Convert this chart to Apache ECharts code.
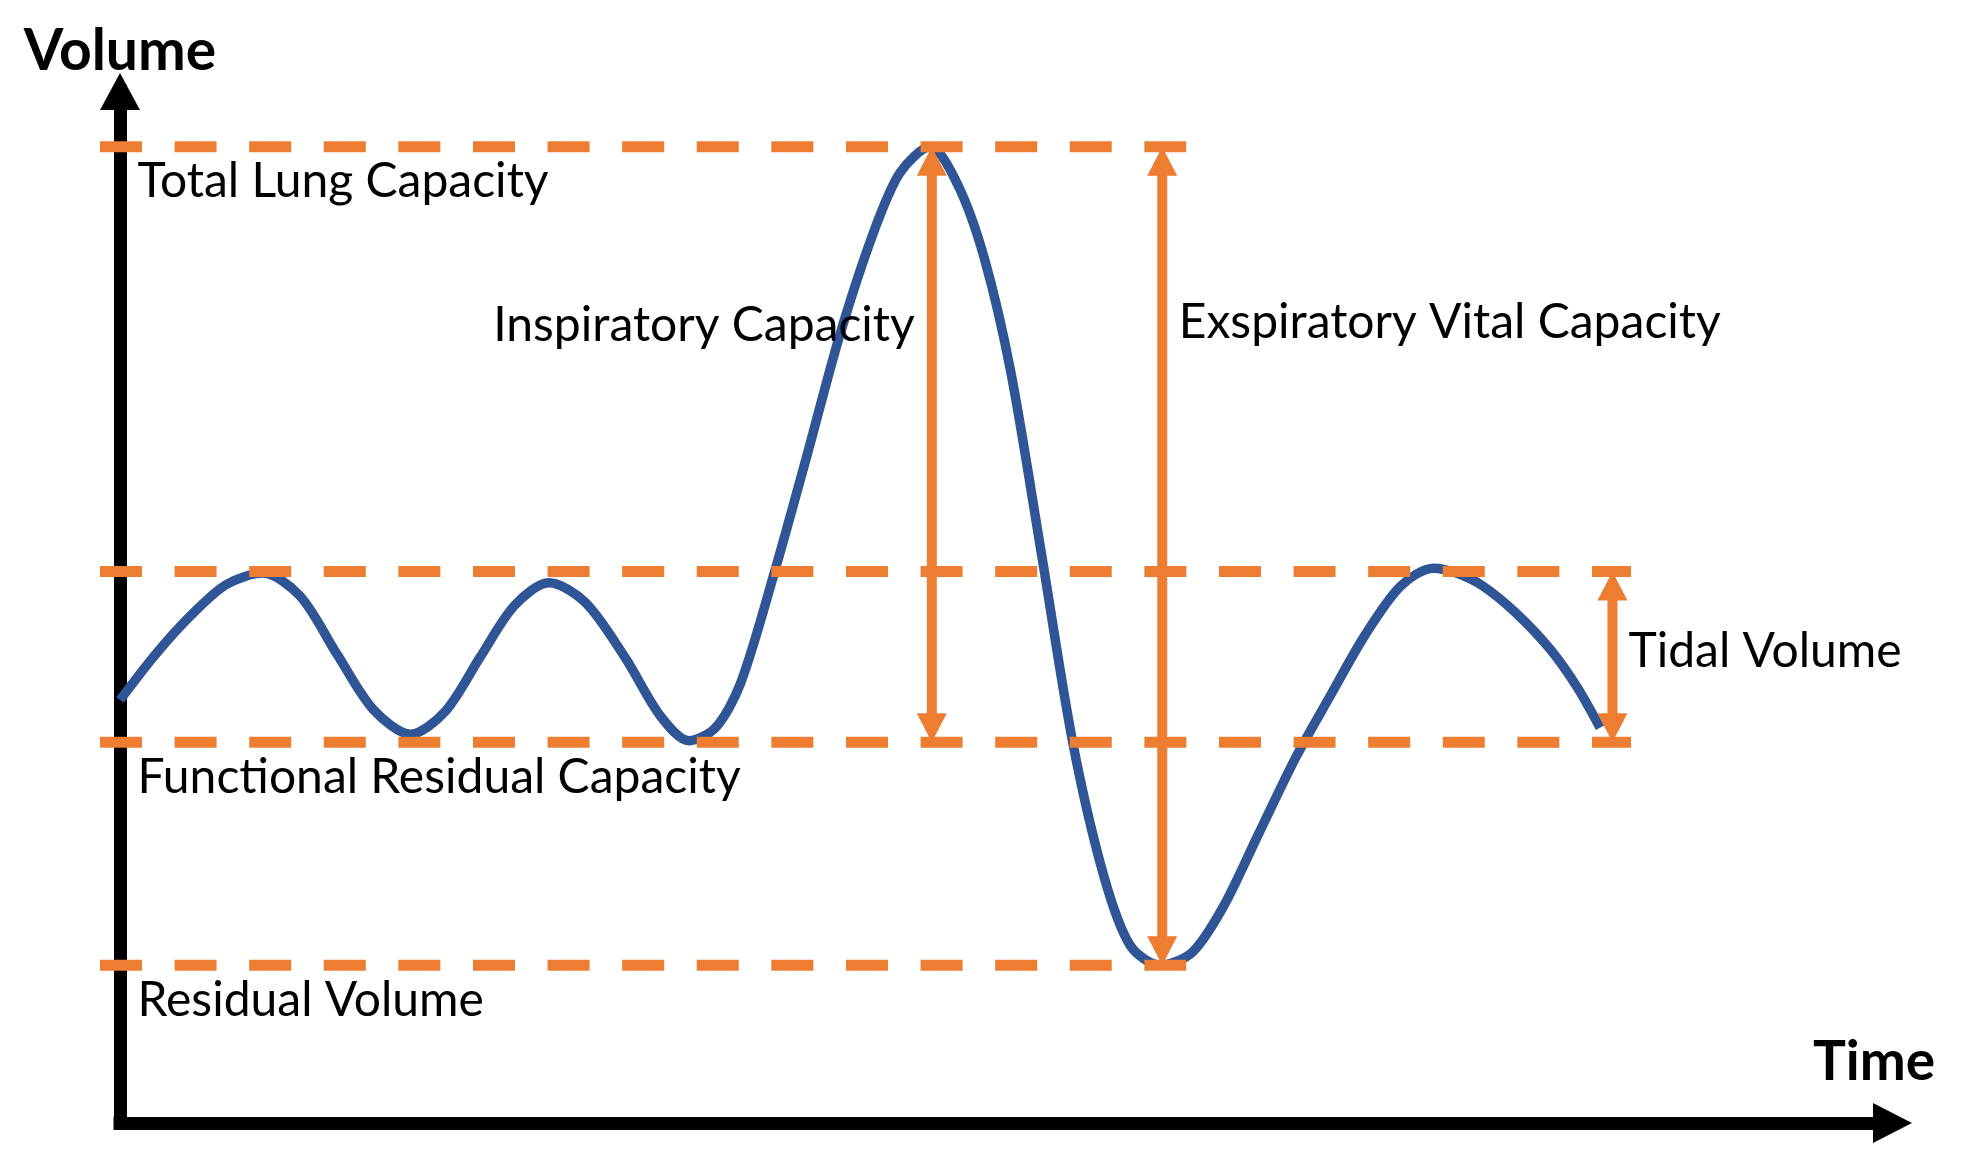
<!DOCTYPE html>
<html><head><meta charset="utf-8">
<script src="https://cdn.jsdelivr.net/npm/echarts@6/dist/echarts.min.js"></script>
<style>html,body{margin:0;padding:0;background:#fff}#c{width:1973px;height:1168px}</style>
</head><body><div id="c"></div>
<script>
// Breathing curve (time in s, volume in L)
const curveTime = [0.00,0.40,0.80,1.20,1.61,2.03,2.45,2.86,3.28,3.67,4.06,4.45,4.84,5.25,5.70,6.10,6.42,6.72,7.00,7.385,7.75,8.12,8.50,8.80,9.14,9.45,9.75,10.05,10.40,10.75,11.10,11.40,11.74,12.10,12.45,12.85,13.27,13.65,14.05,14.45,14.82,15.08,15.38,15.76,16.14,16.44,16.70];
const curveVolume = [2.60,2.88,3.12,3.31,3.38,3.24,2.88,2.54,2.39,2.53,2.86,3.18,3.32,3.20,2.86,2.50,2.35,2.43,2.70,3.386,4.10,4.84,5.47,5.84,6.00,5.77,5.32,4.62,3.49,2.34,1.52,1.09,0.97,1.05,1.33,1.78,2.25,2.62,3.00,3.30,3.41,3.38,3.30,3.13,2.91,2.68,2.43];

// Reference levels (dashed lines)
const levelLabels = ['Total Lung Capacity', '', 'Functional Residual Capacity', 'Residual Volume'];
const levelVolumes = [6.00, 3.39, 2.34, 0.97];
const levelStartTime = -0.226;
const levelEndTimes = [12.03, 17.05, 17.05, 12.03];

// Double-headed arrows
const arrowLabels = ['Inspiratory Capacity', 'Exspiratory Vital Capacity', 'Tidal Volume'];
const arrowTimes = [9.16, 11.76, 16.84];
const arrowFrom = [2.34, 0.97, 2.34];
const arrowTo = [6.00, 6.00, 3.39];

const ORANGE = '#ED7D31', BLUE = '#2F5597';
const FONT = 'Lato';
const LABEL_SIZE = 48;

const chart = echarts.init(document.getElementById('c'), null, {renderer: 'canvas'});

const levelData = levelVolumes.map((v, i) => [levelStartTime, levelEndTimes[i], v]);
const arrowData = arrowTimes.map((t, i) => [t, arrowFrom[i], arrowTo[i]]);

chart.setOption({
  animation: false,
  backgroundColor: '#fff',
  grid: {left: 120, right: 80.5, top: 91.5, bottom: 45, containLabel: false},
  xAxis: {
    type: 'value', min: 0, max: 20,
    axisLine: {show: true, onZero: true, symbol: ['none', 'triangle'], symbolSize: [40, 39],
      lineStyle: {color: '#000', width: 13, cap: 'square'}},
    axisTick: {show: false}, axisLabel: {show: false}, splitLine: {show: false},
    name: 'Time', nameLocation: 'end', nameGap: -18.5,
    nameTextStyle: {fontFamily: FONT, fontWeight: 'bold', fontSize: 55, color: '#000',
      align: 'center', verticalAlign: 'bottom', padding: [0, 0, 33, 0]}
  },
  yAxis: {
    type: 'value', min: 0, max: 6.34,
    axisLine: {show: true, onZero: true, symbol: ['none', 'triangle'], symbolSize: [40, 37],
      lineStyle: {color: '#000', width: 13, cap: 'square'}},
    axisTick: {show: false}, axisLabel: {show: false}, splitLine: {show: false},
    name: 'Volume', nameLocation: 'end', nameGap: 11,
    nameTextStyle: {fontFamily: FONT, fontWeight: 'bold', fontSize: 57, color: '#000', align: 'center'}
  },
  series: [
    {
      type: 'line', name: 'Volume', z: 2,
      data: curveTime.map((t, i) => [t, curveVolume[i]]),
      smooth: 0.3, symbol: 'none', clip: false,
      lineStyle: {color: BLUE, width: 9.5}
    },
    {
      type: 'custom', name: 'levels', z: 3, clip: false,
      data: levelData,
      renderItem: function (params, api) {
        const p1 = api.coord([api.value(0), api.value(2)]);
        const p2 = api.coord([api.value(1), api.value(2)]);
        const label = levelLabels[params.dataIndex];
        const children = [{
          type: 'line', shape: {x1: p1[0], y1: p1[1], x2: p2[0], y2: p2[1]},
          style: {stroke: ORANGE, lineWidth: 11, lineDash: [42, 32.6], lineCap: 'butt'}
        }];
        if (label) {
          const o = api.coord([0, api.value(2)]);
          children.push({
            type: 'text', x: o[0] + 17.5, y: o[1] + 35,
            style: {text: label, fontFamily: FONT, fontSize: LABEL_SIZE, fill: '#000', align: 'left', verticalAlign: 'middle'}
          });
        }
        return {type: 'group', children: children};
      }
    },
    {
      type: 'custom', name: 'arrows', z: 4, clip: false,
      data: arrowData,
      renderItem: function (params, api) {
        const i = params.dataIndex;
        const top = api.coord([api.value(0), api.value(2)]);
        const bot = api.coord([api.value(0), api.value(1)]);
        const hw = 15, hl = 29;
        const children = [
          {type: 'line', shape: {x1: top[0], y1: top[1] + hl - 2, x2: bot[0], y2: bot[1] - hl + 2},
           style: {stroke: ORANGE, lineWidth: 10}},
          {type: 'polygon', shape: {points: [[top[0], top[1]], [top[0] - hw, top[1] + hl], [top[0] + hw, top[1] + hl]]},
           style: {fill: ORANGE}},
          {type: 'polygon', shape: {points: [[bot[0], bot[1]], [bot[0] - hw, bot[1] - hl], [bot[0] + hw, bot[1] - hl]]},
           style: {fill: ORANGE}}
        ];
        let lx, ly, align;
        if (i === 0) { lx = top[0] - 17; ly = api.coord([0, 4.90])[1]; align = 'right'; }
        else if (i === 1) { lx = top[0] + 16.5; ly = api.coord([0, 4.92])[1]; align = 'left'; }
        else { lx = top[0] + 16; ly = (top[1] + bot[1]) / 2 - 5; align = 'left'; }
        children.push({
          type: 'text', x: lx, y: ly,
          style: {text: arrowLabels[i], fontFamily: FONT, fontSize: LABEL_SIZE, fill: '#000', align: align, verticalAlign: 'middle'}
        });
        return {type: 'group', children: children};
      }
    }
  ]
});
</script>
</body></html>
